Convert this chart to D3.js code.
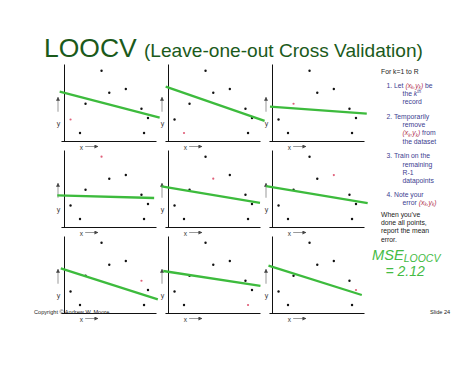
<!DOCTYPE html>
<html><head><meta charset="utf-8">
<script src="https://cdn.jsdelivr.net/npm/d3@7"></script>
<style>
body{margin:0;background:#fff}
svg{display:block}
text{font-family:"Liberation Sans",Arial,Helvetica,sans-serif}
</style>
</head><body><svg id="c" width="474" height="366"></svg>
<script>
// ---- data ----
const pointNames = ["G","H","D","A","B","C","E","I","F"];
const pointX = [0.71, 1.74, 2.34, 4.08, 4.92, 6.72, 8.42, 8.70, 9.13];
const pointY = [2.79, 1.04, 4.84, 9.13, 6.27, 6.75, 4.19, 1.04, 2.99];
// panel k leaves out point k (sorted by x); fitted line per panel
const fitY0  = [6.26, 6.95, 4.44, 4.09, 5.14, 5.19, 5.67, 5.36, 6.00]; // y at x=0
const fitY10 = [3.16, 2.81, 3.57, 3.76, 3.12, 3.19, 1.84, 3.52, 2.25]; // y at x=10
const fitFrom = [-0.47, -0.25, -0.22, -0.73, -0.70, -0.65, -0.35, -0.52, -0.38];
const fitTo   = [10.4, 10.5, 10.3, 9.8, 10.0, 10.4, 10.2, 10.05, 9.76];
const mseLOOCV = "2.12";
const titleMain = "LOOCV";
const titleSub = "(Leave-one-out Cross Validation)";

// ---- layout ----
const svg = d3.select("#c");
const colX = [64, 168, 272];
const rowY = [141, 227, 313];
const W = 92, H = 77;
const x = d3.scaleLinear().domain([0, 10]).range([0, W]);
const y = d3.scaleLinear().domain([0, 10]).range([0, -H]);
const xAxisScale = d3.scaleLinear().domain([-0.33, 10]).range([x(-0.33), x(10)]);
const yAxisScale = d3.scaleLinear().domain([0, 10]).range([y(0), y(10)]);

const defs = svg.append("defs");
defs.append("marker").attr("id","ah").attr("viewBox","0 0 10 10")
  .attr("refX",9).attr("refY",5).attr("markerWidth",4).attr("markerHeight",4)
  .attr("orient","auto").append("path").attr("d","M0,0L10,5L0,10z").attr("fill","#444");

// title
svg.append("text").attr("x",44).attr("y",57).attr("font-size",26.5).attr("fill","#1b5a1b").text(titleMain);
svg.append("text").attr("x",144).attr("y",57).attr("font-size",18.6).attr("fill","#1b5a1b")
  .attr("textLength",279).attr("lengthAdjust","spacingAndGlyphs").text(titleSub);

for (let k = 0; k < 9; k++) {
  const g = svg.append("g").attr("transform", `translate(${colX[k % 3]},${rowY[Math.floor(k / 3)]})`);
  // axes
  g.append("g").call(d3.axisBottom(xAxisScale).tickValues([]).tickSizeOuter(0))
    .select(".domain").attr("stroke","#111").attr("stroke-width",1);
  g.append("g").call(d3.axisLeft(yAxisScale).tickValues([]).tickSizeOuter(0))
    .select(".domain").attr("stroke","#111").attr("stroke-width",1);
  // axis labels
  g.append("text").attr("x", x(1.9)).attr("y", 9).attr("text-anchor","middle")
    .attr("font-size",6.5).attr("fill","#333").text("x");
  g.append("line").attr("x1",x(2.3)).attr("x2",x(3.7)).attr("y1",5.5).attr("y2",5.5)
    .attr("stroke","#999").attr("stroke-width",1).attr("marker-end","url(#ah)");
  g.append("text").attr("x",-5.5).attr("y",y(2.0)).attr("text-anchor","middle")
    .attr("font-size",7).attr("fill","#333").text("y");
  g.append("line").attr("x1",-6).attr("x2",-6).attr("y1",y(3.8)).attr("y2",y(5.7))
    .attr("stroke","#999").attr("stroke-width",1).attr("marker-end","url(#ah)");
  // points
  g.selectAll("circle").data(pointX.map((v, i) => ({x: v, y: pointY[i], out: i === k})))
    .join("circle").attr("cx", d => x(d.x)).attr("cy", d => y(d.y))
    .attr("r", d => d.out ? 1.1 : 1.2).attr("fill", d => d.out ? "#e0607a" : "#111");
  // fitted line
  const f = v => fitY0[k] + (fitY10[k] - fitY0[k]) * v / 10;
  g.append("line").attr("x1", x(fitFrom[k])).attr("y1", y(f(fitFrom[k])))
    .attr("x2", x(fitTo[k])).attr("y2", y(f(fitTo[k])))
    .attr("stroke","#3dbb3d").attr("stroke-width",2.3).attr("stroke-linecap","butt");
}

// right-hand text
const blue = "#3d3d8f", red = "#b0304a", dark = "#222";
const fs = 6.8;
function addLine(xp, yp, parts, color) {
  const t = svg.append("text").attr("x", xp).attr("y", yp).attr("font-size", fs).attr("fill", color);
  parts.forEach(p => {
    if (typeof p === "string") t.append("tspan").text(p);
    else if (p.xk) {
      const s = t.append("tspan").attr("fill", red).attr("font-style","italic");
      s.append("tspan").text("(x");
      s.append("tspan").attr("font-size",4.5).attr("dy",1.5).text("k");
      s.append("tspan").attr("dy",-1.5).text(",y");
      s.append("tspan").attr("font-size",4.5).attr("dy",1.5).text("k");
      s.append("tspan").attr("dy",-1.5).text(")");
    } else if (p.sup) {
      t.append("tspan").attr("font-style","italic").text(p.base);
      t.append("tspan").attr("font-size",4.5).attr("dy",-2.5).text(p.sup);
    }
  });
}
addLine(381, 73.5, ["For k=1 to R"], dark);
addLine(386.5, 87.5, ["1. Let ", {xk:1}, " be"], blue);
addLine(402.5, 95.8, ["the ", {base:"k", sup:"th"}], blue);
addLine(402.5, 104.2, ["record"], blue);
addLine(386.5, 118.5, ["2. Temporarily"], blue);
addLine(402.5, 126.7, ["remove"], blue);
addLine(402.5, 135, [{xk:1}, " from"], blue);
addLine(402.5, 143.5, ["the dataset"], blue);
addLine(386.5, 158, ["3. Train on the"], blue);
addLine(402.5, 166.5, ["remaining"], blue);
addLine(402.5, 174.5, ["R-1"], blue);
addLine(402.5, 182.5, ["datapoints"], blue);
addLine(386.5, 196.5, ["4. Note your"], blue);
addLine(402.5, 204.7, ["error ", {xk:1}], blue);
addLine(381, 216.5, ["When you\u2019ve"], dark);
addLine(381, 225, ["done all points,"], dark);
addLine(381, 233.3, ["report the mean"], dark);
addLine(381, 241.6, ["error."], dark);

const mse = svg.append("text").attr("x",372).attr("y",259.5).attr("fill","#44bb44").attr("font-style","italic");
mse.append("tspan").attr("font-size",14.6).text("MSE");
mse.append("tspan").attr("font-size",10.5).attr("dy",2).text("LOOCV");
svg.append("text").attr("x",385.5).attr("y",275.5).attr("fill","#44bb44").attr("font-style","italic")
  .attr("font-size",14).text("= " + mseLOOCV);

svg.append("text").attr("x",34).attr("y",314).attr("font-size",5.6).attr("fill","#222").text("Copyright \u00A9 Andrew W. Moore");
svg.append("text").attr("x",430).attr("y",314).attr("font-size",5.6).attr("fill","#222").text("Slide 24");
</script>
</body></html>
